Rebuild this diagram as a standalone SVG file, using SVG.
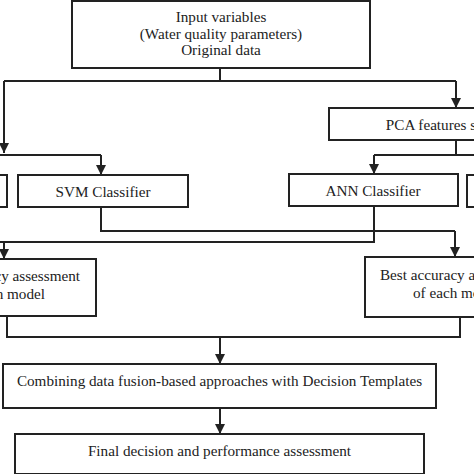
<svg xmlns="http://www.w3.org/2000/svg" width="474" height="474" viewBox="0 0 474 474">
<defs>
<style>
.box{fill:#fff;stroke:#222;stroke-width:2}
.ln{fill:none;stroke:#222;stroke-width:2}
text{font-family:"Liberation Serif","Times New Roman",serif;font-size:15.2px;fill:#222;text-anchor:middle}
</style>
<marker id="ah" viewBox="0 0 10 10" refX="10" refY="5" markerWidth="10" markerHeight="10" markerUnits="userSpaceOnUse" orient="auto">
<path d="M0,0 L10,5 L0,10 Z" fill="#222"/>
</marker>
</defs>
<rect width="474" height="474" fill="#fff"/>
<g id="connectors">
<path class="ln" d="M220,68 V81 M4,81 H456"/>
<path class="ln" d="M4,81 V153" marker-end="url(#ah)"/>
<path class="ln" d="M456,81 V108" marker-end="url(#ah)"/>
<path class="ln" d="M0,155 H101"/>
<path class="ln" d="M101,155 V175" marker-end="url(#ah)"/>
<path class="ln" d="M456,140 V155 M374,155 H474"/>
<path class="ln" d="M374,155 V174" marker-end="url(#ah)"/>
<path class="ln" d="M101,207 V231 H455"/>
<path class="ln" d="M455,231 V257" marker-end="url(#ah)"/>
<path class="ln" d="M374,206 V242 H0"/>
<path class="ln" d="M4,242 V259" marker-end="url(#ah)"/>
<path class="ln" d="M7,316 V337 H460 V317"/>
<path class="ln" d="M220,337 V364" marker-end="url(#ah)"/>
<path class="ln" d="M220,408 V434" marker-end="url(#ah)"/>
</g>
<g id="input">
<rect class="box" x="72" y="1" width="298" height="67"/>
<text x="221" y="22">Input variables</text>
<text x="221" y="38.5">(Water quality parameters)</text>
<text x="221" y="55">Original data</text>
</g>
<g id="pca">
<rect class="box" x="329" y="108" width="254" height="32"/>
<text x="455" y="130">PCA features selection</text>
</g>
<g id="left-classifier">
<rect class="box" x="-80" y="175" width="87" height="32"/>
</g>
<g id="svm">
<rect class="box" x="18" y="175" width="170" height="32"/>
<text x="103" y="196.5">SVM Classifier</text>
</g>
<g id="ann">
<rect class="box" x="289" y="174" width="169" height="32"/>
<text x="373" y="196">ANN Classifier</text>
</g>
<g id="right-classifier">
<rect class="box" x="467" y="175" width="87" height="32"/>
</g>
<g id="best-left">
<rect class="box" x="-82" y="259" width="178" height="57"/>
<text x="2" y="281">Best accuracy assessment</text>
<text x="2" y="298.5">of each model</text>
</g>
<g id="best-right">
<rect class="box" x="365" y="257" width="178" height="60"/>
<text x="458" y="280">Best accuracy assessment</text>
<text x="456" y="297.5">of each model</text>
</g>
<g id="combining">
<rect class="box" x="3" y="364" width="433" height="44"/>
<text x="219.5" y="385.5">Combining data fusion-based approaches with Decision Templates</text>
</g>
<g id="final">
<rect class="box" x="15" y="434" width="409" height="40"/>
<text x="219.5" y="455.5">Final decision and performance assessment</text>
</g>
</svg>
